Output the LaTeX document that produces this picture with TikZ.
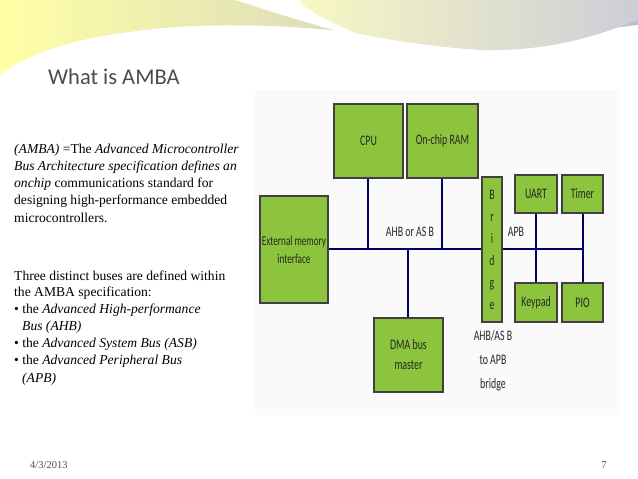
\documentclass[tikz,border=0pt]{standalone}
\usepackage{fontspec}
\setmainfont{Liberation Serif}
\newfontfamily\carl{Carlito}
\newfontfamily\carlc[FakeStretch=0.68]{Carlito}
\definecolor{blkgreen}{RGB}{140,196,62}
\begin{document}
\begin{tikzpicture}[x=1pt,y=-1pt,
  blk/.style={draw=black!75,line width=1.3pt,fill=blkgreen,inner sep=0pt,font=\carlc\fontsize{14.5}{15}\selectfont,align=center,text=black!85},
  bus/.style={draw=blue!40!black,line width=1.5pt},
  lbl/.style={font=\carlc\fontsize{14.5}{15}\selectfont,inner sep=0pt,text=black!85},
  txt/.style={font=\fontsize{13.6}{15}\selectfont,anchor=west,inner sep=0pt}]
\useasboundingbox (0,0) rectangle (638,479);
\fill[white] (0,0) rectangle (638,479);
% header swoosh
\shade[left color=yellow!35!white, right color=blue!15!gray!45] (0,0) -- (638,0) -- (638,25) .. controls (560,50) and (430,40) .. (380,35) .. controls (250,20) and (100,15) .. (0,75) -- cycle;
\fill[white] (0,75) .. controls (60,30) and (180,20) .. (300,35) .. controls (380,45) and (430,50) .. (638,25) -- (638,50) .. controls (560,60) and (460,55) .. (380,48) .. controls (250,35) and (100,40) .. (0,75) -- cycle;
\shade[left color=yellow!25!white, right color=blue!12!gray!35] (240,0) .. controls (300,25) and (400,45) .. (480,50) .. controls (560,52) and (610,30) .. (638,20) -- (638,0) -- cycle;
\fill[white] (235,0) .. controls (260,8) and (330,30) .. (370,40) .. controls (330,22) and (300,8) .. (300,0) -- cycle;
\node[font=\carl\fontsize{22.5}{25}\selectfont,text=black!70,anchor=west,inner sep=0pt] (title) at (48,77) {What is AMBA};
% left text
\node[txt] (t1) at (14,150) {\textit{(AMBA)} =The \textit{Advanced Microcontroller}};
\node[txt] (t2) at (14,167) {\textit{Bus Architecture specification defines an}};
\node[txt] (t3) at (14,184) {\textit{onchip} communications standard for};
\node[txt] (t4) at (14,201) {designing high-performance embedded};
\node[txt] (t5) at (14,218) {microcontrollers.};
\node[txt] (t6) at (14,276) {Three distinct buses are defined within};
\node[txt] (t7) at (14,293) {the AMBA specification:};
\node[txt] (t8) at (14,310) {• the \textit{Advanced High-performance}};
\node[txt] (t9) at (22,327) {\textit{Bus (AHB)}};
\node[txt] (t10) at (14,344) {• the \textit{Advanced System Bus (ASB)}};
\node[txt] (t11) at (14,361) {• the \textit{Advanced Peripheral Bus}};
\node[txt] (t12) at (22,379) {\textit{(APB)}};
\node[font=\fontsize{10.5}{12}\selectfont,text=black!70,anchor=west,inner sep=0pt] (date) at (30,465) {4/3/2013};
\node[font=\fontsize{10.5}{12}\selectfont,text=black!70,inner sep=0pt] (pg) at (604,465) {7};
% diagram
\fill[black!2] (255,90) rectangle (620,415);
\coordinate (b1) at (328,249); \coordinate (b2) at (482,249);
\coordinate (c1) at (502,249); \coordinate (c2) at (583,249);
\draw[bus] (b1) -- (b2);
\draw[bus] (c1) -- (c2);
\draw[bus] (368,178) -- (368,249);
\draw[bus] (442,178) -- (442,249);
\draw[bus] (408,249) -- (408,318);
\draw[bus] (536,213) -- (536,283);
\draw[bus] (583,213) -- (583,283);
\node[blk,minimum width=69pt,minimum height=74pt] (cpu) at (368.5,141) {CPU};
\node[blk,minimum width=71pt,minimum height=74pt] (ram) at (442.5,141) {On-chip RAM};
\node[blk,minimum width=68pt,minimum height=107pt,font=\carlc\fontsize{13.5}{18}\selectfont] (ext) at (294,249.5) {External memory\\interface};
\node[blk,minimum width=69pt,minimum height=74pt,font=\carlc\fontsize{14.5}{20}\selectfont] (dma) at (408.5,355) {DMA bus\\master};
\node[blk,minimum width=20pt,minimum height=145pt,font=\carlc\fontsize{14.5}{22}\selectfont] (br) at (492,249.5) {B\\r\\i\\d\\g\\e};
\node[blk,minimum width=42pt,minimum height=38pt] (uart) at (536,194) {UART};
\node[blk,minimum width=41pt,minimum height=38pt] (timer) at (582.5,194) {Timer};
\node[blk,minimum width=42pt,minimum height=39pt] (key) at (536,302.5) {Keypad};
\node[blk,minimum width=41pt,minimum height=39pt] (pio) at (582.5,302.5) {PIO};
\node[lbl] (ahb) at (410,232) {AHB or AS B};
\node[lbl] (apb) at (516,232) {APB};
\node[lbl,align=center,anchor=north,font=\carlc\fontsize{14.5}{24}\selectfont] (brl) at (493,330) {AHB/AS B\\to APB\\bridge};
\end{tikzpicture}
\end{document}
